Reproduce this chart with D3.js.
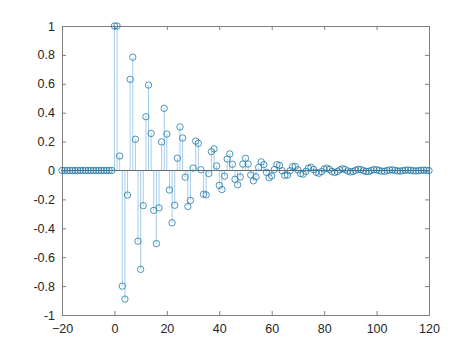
<!DOCTYPE html>
<html><head><meta charset="utf-8">
<script src="https://cdn.jsdelivr.net/npm/d3@7"></script>
<style>body{margin:0;background:#fff}svg{display:block}</style>
</head><body>
<script>
const nValues = d3.range(-20, 121);
const preZeros = new Array(20).fill(0);
const response = [
1, 1, 0.1, -0.8, -0.89, -0.17, 0.631, 0.784, 0.2161, -0.4895,
-0.684, -0.2434, 0.3722, 0.5912, 0.2563, -0.2758, -0.5065, -0.2583, 0.1976, 0.43,
0.2522, -0.1348, -0.3618, -0.2405, 0.0852, 0.3016, 0.2249, -0.0465, -0.2489, -0.2071,
0.0169, 0.2033, 0.1881, 0.0051, -0.1642, -0.1688, -0.021, 0.1309, 0.1498, 0.032,
-0.1028, -0.1316, -0.0391, 0.0794, 0.1145, 0.0431, -0.06, -0.0988, -0.0448, 0.0441,
0.0844, 0.0447, -0.0313, -0.0715, -0.0434, 0.021, 0.06, 0.0411, -0.0129, -0.0499,
-0.0383, 0.0066, 0.0411, 0.0351, -0.0018, -0.0335, -0.0318, -0.0017, 0.0269, 0.0285,
0.0042, -0.0214, -0.0252, -0.0059, 0.0167, 0.0221, 0.007, -0.0129, -0.0192, -0.0076,
0.0097, 0.0165, 0.0078, -0.007, -0.0141, -0.0077, 0.0049, 0.0119, 0.0074, -0.0032,
-0.01, -0.007, 0.0019, 0.0083, 0.0065, -0.0009, -0.0068, -0.006, 0.0001, 0.0055,
0.0054, 0.0004, -0.0044, -0.0048, -0.0008, 0.0035, 0.0042, 0.0011, -0.0027, -0.0037,
-0.0013, 0.0021, 0.0032, 0.0013, -0.0016, -0.0028, -0.0014, 0.0011, 0.0023, 0.0013,
-0.0008
];
const yValues = preZeros.concat(response);
const xTicks = [-20, 0, 20, 40, 60, 80, 100, 120];
const yTicks = [-1, -0.8, -0.6, -0.4, -0.2, 0, 0.2, 0.4, 0.6, 0.8, 1];

const W = 474, H = 355;
const L = 62, R = 429, T = 26, B = 315;
const svg = d3.select("body").append("svg").attr("width", W).attr("height", H);
const x = d3.scaleLinear().domain([-20, 120]).range([L, R]);
const y = d3.scaleLinear().domain([-1, 1]).range([B, T]);
const axisColor = "#808080";
const textColor = "#262626";
const stemColor = "#0072BD";
const font = "Liberation Sans, Arial, Helvetica, sans-serif";

const gx = svg.append("g").attr("transform", `translate(0,${B})`)
  .call(d3.axisBottom(x).tickValues(xTicks).tickSize(-4).tickPadding(9).tickFormat(d3.format("d")));
const gxTop = svg.append("g").attr("transform", `translate(0,${T})`)
  .call(d3.axisTop(x).tickValues(xTicks).tickSize(-4).tickFormat(""));
const gy = svg.append("g").attr("transform", `translate(${L},0)`)
  .call(d3.axisLeft(y).tickValues(yTicks).tickSize(-4).tickPadding(7).tickFormat(d => String(+d.toFixed(1))));
const gyR = svg.append("g").attr("transform", `translate(${R},0)`)
  .call(d3.axisRight(y).tickValues(yTicks).tickSize(-4).tickFormat(""));
[gx, gxTop, gy, gyR].forEach(g => {
  g.select(".domain").attr("stroke", axisColor).attr("stroke-width", 1);
  g.selectAll(".tick line").attr("stroke", axisColor);
  g.selectAll(".tick text").attr("fill", textColor).attr("font-family", font).attr("font-size", 12.5);
});

const data = nValues.map((n, i) => ({n, v: yValues[i]}));

svg.append("g").selectAll("line").data(data).join("line")
  .attr("x1", d => x(d.n)).attr("x2", d => x(d.n))
  .attr("y1", y(0)).attr("y2", d => y(d.v))
  .attr("stroke", stemColor).attr("stroke-width", 0.6).attr("stroke-opacity", 0.6);

svg.append("line").attr("x1", x(-20)).attr("x2", x(120))
  .attr("y1", y(0)).attr("y2", y(0)).attr("stroke", "#6a6a6a").attr("stroke-width", 1);

svg.append("g").selectAll("circle").data(data).join("circle")
  .attr("cx", d => x(d.n)).attr("cy", d => y(d.v)).attr("r", 3.2)
  .attr("fill", "none").attr("stroke", "#1f78a8").attr("stroke-width", 0.8);
</script>
</body></html>
